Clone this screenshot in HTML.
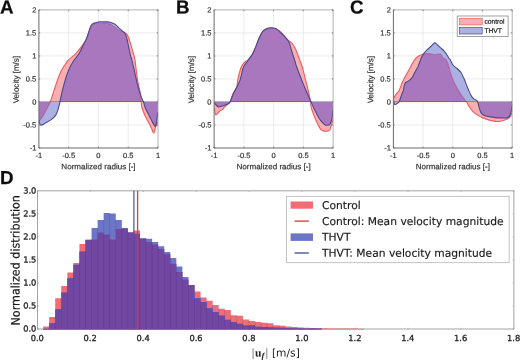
<!DOCTYPE html>
<html lang="en"><head><meta charset="utf-8"><title>Figure</title>
<style>html,body{margin:0;padding:0;background:#fff}svg{display:block;text-rendering:geometricPrecision}.lib{font-family:"Liberation Sans",sans-serif}.dv{font-family:"DejaVu Sans","Liberation Sans",sans-serif}.ser{font-family:"Liberation Serif","DejaVu Serif",serif}</style></head><body>
<svg width="520" height="360" viewBox="0 0 520 360">
<filter id="soft" x="0" y="0" width="100%" height="100%" filterUnits="objectBoundingBox"><feGaussianBlur stdDeviation="0.5"/></filter>
<rect width="520" height="360" fill="#fff"/>
<g filter="url(#soft)">
<rect width="520" height="360" fill="#fff"/>
<defs>
<clipPath id="crA"><path d="M38.9,101.97L38.9,121.2C39.45,120.52 41.07,118.77 42.20,117.12C43.33,115.48 44.63,113.29 45.70,111.35C46.77,109.41 47.83,107.04 48.60,105.48C49.37,103.92 49.38,104.56 50.30,102.00C51.22,99.44 52.83,94.00 54.10,90.14C55.37,86.27 56.75,81.97 57.90,78.82C59.05,75.68 59.86,73.59 61.00,71.28C62.14,68.98 63.50,66.88 64.75,65.00C66.00,63.11 66.83,61.69 68.50,59.97C70.17,58.25 72.67,56.83 74.75,54.69C76.83,52.55 79.44,49.13 81.00,47.15C82.56,45.16 83.17,44.21 84.10,42.77C85.03,41.34 85.82,40.28 86.60,38.55C87.38,36.82 88.02,34.44 88.75,32.42C89.48,30.39 90.21,27.83 91.00,26.38C91.79,24.94 92.46,24.32 93.50,23.77C94.54,23.22 96.17,23.23 97.25,23.07C98.33,22.90 98.29,22.72 100.00,22.77C101.71,22.82 105.42,22.93 107.50,23.37C109.58,23.81 110.83,24.41 112.50,25.38C114.17,26.36 115.83,28.15 117.50,29.20C119.17,30.26 121.04,30.99 122.50,31.72C123.96,32.45 125.21,32.54 126.25,33.58C127.29,34.62 127.92,35.86 128.75,37.95C129.58,40.05 130.42,43.31 131.25,46.15C132.08,48.98 133.12,52.64 133.75,54.94C134.38,57.25 134.58,57.37 135.00,59.97C135.42,62.57 135.73,66.67 136.25,70.53C136.77,74.38 137.38,79.12 138.10,83.10C138.82,87.08 140.08,91.25 140.60,94.41C141.12,97.57 140.98,99.87 141.20,102.05C141.42,104.23 141.35,105.41 141.90,107.47C142.45,109.54 143.48,112.12 144.50,114.44C145.52,116.76 146.83,119.08 148.00,121.40C149.17,123.72 150.53,126.43 151.50,128.37C152.47,130.31 153.12,133.23 153.80,133.04C154.48,132.86 155.05,128.82 155.60,127.27C156.15,125.73 156.73,124.65 157.10,123.79C157.47,122.93 157.68,122.38 157.80,122.10L157.8,101.97Z"/></clipPath>
<clipPath id="cuA"><path d="M38.9,101.97L38.9,120.11C39.05,120.69 39.42,122.73 39.80,123.59C40.18,124.45 40.22,125.40 41.20,125.28C42.18,125.17 43.98,123.87 45.70,122.89C47.42,121.92 49.85,120.66 51.50,119.41C53.15,118.16 54.53,116.92 55.60,115.38C56.67,113.84 57.22,112.19 57.90,110.16C58.58,108.13 59.37,104.55 59.70,103.19C60.03,101.83 59.58,103.55 59.90,102.00C60.22,100.45 60.90,96.93 61.60,93.91C62.30,90.88 63.16,87.20 64.10,83.85C65.04,80.50 66.20,76.73 67.25,73.80C68.30,70.86 69.36,68.39 70.40,66.26C71.44,64.12 72.05,63.11 73.50,60.97C74.95,58.83 77.53,55.94 79.10,53.43C80.67,50.92 81.65,48.40 82.90,45.89C84.15,43.38 85.62,40.65 86.60,38.35C87.57,36.04 88.02,34.16 88.75,32.06C89.48,29.97 90.21,27.25 91.00,25.78C91.79,24.31 92.46,23.85 93.50,23.27C94.54,22.68 96.17,22.51 97.25,22.26C98.33,22.01 98.54,21.83 100.00,21.76C101.46,21.70 104.33,21.80 106.00,21.86C107.67,21.93 108.50,21.78 110.00,22.16C111.50,22.55 113.54,23.22 115.00,24.18C116.46,25.13 117.50,26.75 118.75,27.90C120.00,29.05 121.46,30.12 122.50,31.06C123.54,32.01 124.27,32.32 125.00,33.58C125.73,34.84 126.28,36.30 126.90,38.61C127.53,40.91 128.13,44.47 128.75,47.40C129.37,50.34 130.18,54.44 130.60,56.20C131.02,57.96 130.72,55.99 131.25,57.96C131.78,59.93 132.92,64.45 133.75,68.02C134.58,71.58 135.42,75.77 136.25,79.33C137.08,82.89 137.92,86.45 138.75,89.38C139.58,92.31 140.46,94.81 141.25,96.92C142.04,99.03 142.86,100.29 143.50,102.05C144.14,103.81 144.35,105.59 145.10,107.47C145.85,109.35 146.93,111.20 148.00,113.34C149.07,115.48 150.43,118.28 151.50,120.31C152.57,122.33 153.72,124.52 154.40,125.48C155.08,126.44 155.21,126.94 155.60,126.08C155.99,125.22 156.47,122.05 156.75,120.31C157.03,118.57 157.12,116.99 157.30,115.63C157.48,114.27 157.72,112.73 157.80,112.15L157.8,101.97Z"/></clipPath>
<clipPath id="cbA"><rect x="38.9" y="9.9" width="119.1" height="138.1"/></clipPath>
<clipPath id="crB"><path d="M214.3,101.97L214.3,108.17C214.55,109.30 214.97,114.39 215.80,114.94C216.63,115.48 218.13,112.41 219.30,111.45C220.47,110.49 221.82,110.03 222.80,109.16C223.78,108.30 224.22,107.24 225.20,106.28C226.18,105.32 227.83,104.17 228.70,103.39C229.57,102.61 229.75,103.10 230.40,101.60C231.05,100.09 231.55,96.79 232.60,94.36C233.65,91.93 235.85,89.40 236.70,87.02C237.55,84.64 237.12,82.91 237.70,80.08C238.28,77.25 239.37,72.64 240.20,70.03C241.03,67.41 241.80,65.82 242.70,64.40C243.60,62.97 244.67,62.23 245.60,61.48C246.53,60.73 247.18,61.02 248.25,59.92C249.32,58.82 250.96,56.57 252.00,54.89C253.04,53.21 253.67,51.75 254.50,49.86C255.33,47.98 256.17,45.67 257.00,43.58C257.83,41.48 258.57,39.22 259.50,37.29C260.43,35.37 261.56,33.28 262.60,32.02C263.64,30.75 264.60,30.26 265.75,29.70C266.90,29.15 268.25,28.87 269.50,28.70C270.75,28.53 272.00,28.56 273.25,28.70C274.50,28.83 275.54,28.77 277.00,29.50C278.46,30.24 280.50,31.70 282.00,33.12C283.50,34.55 284.92,36.83 286.00,38.05C287.08,39.27 287.46,39.54 288.50,40.47C289.54,41.40 291.10,42.27 292.25,43.63C293.40,45.00 294.46,46.78 295.40,48.66C296.34,50.55 297.10,52.85 297.90,54.94C298.70,57.04 299.58,59.55 300.20,61.23C300.82,62.90 301.12,63.53 301.60,65.00C302.08,66.47 302.43,67.51 303.10,70.03C303.77,72.54 304.77,76.73 305.60,80.08C306.43,83.43 307.30,86.78 308.10,90.14C308.90,93.49 309.98,98.25 310.40,100.19C310.82,102.13 310.45,100.52 310.60,101.80C310.75,103.08 310.78,105.70 311.30,107.87C311.82,110.04 312.82,112.51 313.70,114.84C314.58,117.16 315.63,119.68 316.60,121.80C317.57,123.92 318.53,126.13 319.50,127.57C320.47,129.01 321.23,129.84 322.40,130.46C323.57,131.07 325.33,131.25 326.50,131.25C327.67,131.25 328.72,131.07 329.40,130.46C330.08,129.84 330.15,128.83 330.60,127.57C331.05,126.31 331.68,124.30 332.10,122.89C332.52,121.49 332.93,119.74 333.10,119.11L333.1,101.97Z"/></clipPath>
<clipPath id="cuB"><path d="M214.3,101.97L214.3,102.7C214.37,102.81 214.05,102.70 214.70,103.39C215.35,104.09 217.03,106.39 218.20,106.88C219.37,107.36 220.53,106.58 221.70,106.28C222.87,105.98 224.03,105.57 225.20,105.08C226.37,104.60 227.73,104.26 228.70,103.39C229.67,102.53 230.32,101.26 231.00,99.89C231.68,98.52 231.77,97.31 232.75,95.16C233.73,93.02 235.68,89.53 236.90,87.02C238.12,84.51 239.26,82.49 240.10,80.08C240.94,77.67 241.33,74.84 241.95,72.54C242.57,70.24 242.97,68.03 243.80,66.26C244.63,64.48 246.21,62.94 246.95,61.88C247.69,60.83 247.41,61.08 248.25,59.92C249.09,58.75 250.96,56.57 252.00,54.89C253.04,53.21 253.67,51.75 254.50,49.86C255.33,47.98 256.17,45.67 257.00,43.58C257.83,41.48 258.57,39.29 259.50,37.29C260.43,35.30 261.56,32.98 262.60,31.61C263.64,30.25 264.60,29.72 265.75,29.10C266.90,28.48 268.25,28.09 269.50,27.89C270.75,27.69 272.00,27.69 273.25,27.89C274.50,28.09 275.71,28.25 277.00,29.10C278.29,29.96 279.50,31.53 281.00,33.02C282.50,34.51 284.65,36.49 286.00,38.05C287.35,39.61 288.27,40.61 289.10,42.38C289.93,44.14 290.37,46.57 291.00,48.66C291.63,50.76 292.17,52.64 292.90,54.94C293.63,57.25 294.88,60.81 295.40,62.49C295.92,64.16 295.44,63.32 296.00,65.00C296.56,66.67 297.46,69.19 298.75,72.54C300.04,75.89 302.19,81.34 303.75,85.11C305.31,88.88 306.89,92.36 308.10,95.16C309.31,97.96 309.98,99.60 311.00,101.90C312.02,104.20 313.12,106.63 314.25,108.97C315.38,111.30 316.58,113.89 317.75,115.93C318.92,117.97 320.08,119.74 321.25,121.20C322.42,122.66 323.68,124.01 324.75,124.69C325.82,125.37 326.82,125.38 327.70,125.28C328.57,125.18 329.32,125.07 330.00,124.09C330.68,123.11 331.32,121.15 331.75,119.41C332.18,117.67 332.38,115.18 332.60,113.64C332.83,112.10 333.02,110.74 333.10,110.16L333.1,101.97Z"/></clipPath>
<clipPath id="cbB"><rect x="214.1" y="9.9" width="119" height="138.1"/></clipPath>
<clipPath id="crC"><path d="M393.4,101.97L393.4,98.43C393.88,97.68 395.27,95.29 396.25,93.91C397.23,92.52 398.21,92.10 399.25,90.14C400.29,88.17 401.33,84.69 402.50,82.09C403.67,79.49 405.00,76.90 406.25,74.55C407.50,72.20 409.06,69.75 410.00,68.01C410.94,66.28 411.07,65.63 411.90,64.14C412.73,62.66 413.86,60.48 415.00,59.12C416.14,57.75 417.50,56.74 418.75,55.95C420.00,55.15 421.25,54.76 422.50,54.34C423.75,53.92 424.79,53.50 426.25,53.44C427.71,53.37 429.79,53.73 431.25,53.94C432.71,54.15 433.75,54.69 435.00,54.69C436.25,54.69 437.71,53.90 438.75,53.94C439.79,53.98 440.52,54.26 441.25,54.94C441.98,55.63 442.38,57.32 443.10,58.06C443.83,58.80 444.87,58.63 445.60,59.37C446.33,60.11 446.92,61.13 447.50,62.49C448.08,63.84 448.42,65.21 449.10,67.51C449.78,69.82 450.55,73.38 451.60,76.31C452.65,79.24 454.04,82.39 455.40,85.11C456.76,87.83 458.30,90.35 459.75,92.65C461.20,94.95 462.94,97.37 464.10,98.93C465.26,100.49 465.84,100.71 466.70,102.00C467.56,103.29 468.20,105.07 469.25,106.68C470.30,108.29 471.54,110.20 473.00,111.65C474.46,113.10 476.33,114.35 478.00,115.38C479.67,116.42 481.12,117.08 483.00,117.87C484.88,118.66 487.17,119.53 489.25,120.11C491.33,120.69 493.62,121.17 495.50,121.35C497.38,121.54 498.83,121.48 500.50,121.20C502.17,120.93 504.04,120.27 505.50,119.71C506.96,119.16 508.32,118.59 509.25,117.87C510.18,117.15 510.62,116.42 511.10,115.38C511.58,114.35 511.85,112.69 512.10,111.65C512.35,110.62 512.52,109.58 512.60,109.16L512.6,101.97Z"/></clipPath>
<clipPath id="cuC"><path d="M393.4,101.97L393.4,100.19C393.53,100.72 393.92,102.63 394.20,103.39C394.48,104.16 394.60,104.79 395.10,104.79C395.60,104.79 396.51,103.95 397.20,103.39C397.89,102.84 398.47,103.03 399.25,101.45C400.03,99.87 401.21,95.79 401.90,93.91C402.59,92.02 402.88,91.90 403.40,90.14C403.92,88.38 404.11,84.90 405.00,83.35C405.89,81.80 407.50,81.88 408.75,80.84C410.00,79.79 411.46,78.53 412.50,77.06C413.54,75.60 414.07,73.82 415.00,72.04C415.93,70.25 417.06,68.68 418.10,66.35C419.14,64.02 420.31,60.18 421.25,58.06C422.19,55.94 422.81,54.99 423.75,53.63C424.69,52.28 425.76,51.06 426.90,49.91C428.04,48.77 429.57,47.69 430.60,46.75C431.63,45.80 432.41,44.89 433.10,44.23C433.79,43.57 434.12,42.77 434.75,42.78C435.38,42.79 436.02,43.52 436.90,44.29C437.77,45.06 438.86,46.36 440.00,47.40C441.14,48.44 442.71,49.47 443.75,50.52C444.79,51.57 445.42,52.43 446.25,53.69C447.08,54.94 448.06,57.01 448.75,58.06C449.44,59.11 449.71,58.82 450.40,59.97C451.09,61.13 451.76,63.53 452.90,65.00C454.04,66.47 455.90,67.51 457.25,68.77C458.60,70.03 459.86,70.86 461.00,72.54C462.14,74.22 463.17,76.73 464.10,78.82C465.03,80.92 465.77,83.01 466.60,85.11C467.43,87.20 468.24,89.47 469.10,91.39C469.96,93.32 470.89,95.37 471.75,96.67C472.61,97.97 473.42,98.56 474.25,99.18C475.08,99.81 476.12,99.81 476.75,100.44C477.38,101.07 477.58,101.70 478.00,102.95C478.42,104.19 478.73,106.26 479.25,107.92C479.77,109.58 480.27,111.65 481.10,112.90C481.93,114.14 482.89,114.76 484.25,115.38C485.61,116.00 487.38,116.25 489.25,116.63C491.12,117.00 493.42,117.41 495.50,117.62C497.58,117.83 499.88,117.83 501.75,117.87C503.62,117.91 505.50,118.08 506.75,117.87C508.00,117.66 508.52,117.66 509.25,116.63C509.98,115.59 510.64,113.31 511.10,111.65C511.56,109.99 511.75,107.92 512.00,106.68C512.25,105.43 512.50,104.60 512.60,104.19L512.6,101.97Z"/></clipPath>
<clipPath id="cbC"><rect x="393.4" y="9.9" width="118.8" height="138.1"/></clipPath>
</defs>
<g id="panelA">
<line x1="68.67" y1="9.9" x2="68.67" y2="148" stroke="#e4e4e4" stroke-width="0.7"/>
<line x1="98.45" y1="9.9" x2="98.45" y2="148" stroke="#e4e4e4" stroke-width="0.7"/>
<line x1="128.22" y1="9.9" x2="128.22" y2="148" stroke="#e4e4e4" stroke-width="0.7"/>
<line x1="38.9" y1="32.92" x2="158" y2="32.92" stroke="#e4e4e4" stroke-width="0.7"/>
<line x1="38.9" y1="55.93" x2="158" y2="55.93" stroke="#e4e4e4" stroke-width="0.7"/>
<line x1="38.9" y1="78.95" x2="158" y2="78.95" stroke="#e4e4e4" stroke-width="0.7"/>
<line x1="38.9" y1="101.97" x2="158" y2="101.97" stroke="#e4e4e4" stroke-width="0.7"/>
<line x1="38.9" y1="124.98" x2="158" y2="124.98" stroke="#e4e4e4" stroke-width="0.7"/>
<g clip-path="url(#cbA)">
<path d="M38.9,101.97L38.9,121.2C39.45,120.52 41.07,118.77 42.20,117.12C43.33,115.48 44.63,113.29 45.70,111.35C46.77,109.41 47.83,107.04 48.60,105.48C49.37,103.92 49.38,104.56 50.30,102.00C51.22,99.44 52.83,94.00 54.10,90.14C55.37,86.27 56.75,81.97 57.90,78.82C59.05,75.68 59.86,73.59 61.00,71.28C62.14,68.98 63.50,66.88 64.75,65.00C66.00,63.11 66.83,61.69 68.50,59.97C70.17,58.25 72.67,56.83 74.75,54.69C76.83,52.55 79.44,49.13 81.00,47.15C82.56,45.16 83.17,44.21 84.10,42.77C85.03,41.34 85.82,40.28 86.60,38.55C87.38,36.82 88.02,34.44 88.75,32.42C89.48,30.39 90.21,27.83 91.00,26.38C91.79,24.94 92.46,24.32 93.50,23.77C94.54,23.22 96.17,23.23 97.25,23.07C98.33,22.90 98.29,22.72 100.00,22.77C101.71,22.82 105.42,22.93 107.50,23.37C109.58,23.81 110.83,24.41 112.50,25.38C114.17,26.36 115.83,28.15 117.50,29.20C119.17,30.26 121.04,30.99 122.50,31.72C123.96,32.45 125.21,32.54 126.25,33.58C127.29,34.62 127.92,35.86 128.75,37.95C129.58,40.05 130.42,43.31 131.25,46.15C132.08,48.98 133.12,52.64 133.75,54.94C134.38,57.25 134.58,57.37 135.00,59.97C135.42,62.57 135.73,66.67 136.25,70.53C136.77,74.38 137.38,79.12 138.10,83.10C138.82,87.08 140.08,91.25 140.60,94.41C141.12,97.57 140.98,99.87 141.20,102.05C141.42,104.23 141.35,105.41 141.90,107.47C142.45,109.54 143.48,112.12 144.50,114.44C145.52,116.76 146.83,119.08 148.00,121.40C149.17,123.72 150.53,126.43 151.50,128.37C152.47,130.31 153.12,133.23 153.80,133.04C154.48,132.86 155.05,128.82 155.60,127.27C156.15,125.73 156.73,124.65 157.10,123.79C157.47,122.93 157.68,122.38 157.80,122.10L157.8,101.97Z" fill="#f9aeb0"/>
<path d="M38.9,121.2C39.45,120.52 41.07,118.77 42.20,117.12C43.33,115.48 44.63,113.29 45.70,111.35C46.77,109.41 47.83,107.04 48.60,105.48C49.37,103.92 49.38,104.56 50.30,102.00C51.22,99.44 52.83,94.00 54.10,90.14C55.37,86.27 56.75,81.97 57.90,78.82C59.05,75.68 59.86,73.59 61.00,71.28C62.14,68.98 63.50,66.88 64.75,65.00C66.00,63.11 66.83,61.69 68.50,59.97C70.17,58.25 72.67,56.83 74.75,54.69C76.83,52.55 79.44,49.13 81.00,47.15C82.56,45.16 83.17,44.21 84.10,42.77C85.03,41.34 85.82,40.28 86.60,38.55C87.38,36.82 88.02,34.44 88.75,32.42C89.48,30.39 90.21,27.83 91.00,26.38C91.79,24.94 92.46,24.32 93.50,23.77C94.54,23.22 96.17,23.23 97.25,23.07C98.33,22.90 98.29,22.72 100.00,22.77C101.71,22.82 105.42,22.93 107.50,23.37C109.58,23.81 110.83,24.41 112.50,25.38C114.17,26.36 115.83,28.15 117.50,29.20C119.17,30.26 121.04,30.99 122.50,31.72C123.96,32.45 125.21,32.54 126.25,33.58C127.29,34.62 127.92,35.86 128.75,37.95C129.58,40.05 130.42,43.31 131.25,46.15C132.08,48.98 133.12,52.64 133.75,54.94C134.38,57.25 134.58,57.37 135.00,59.97C135.42,62.57 135.73,66.67 136.25,70.53C136.77,74.38 137.38,79.12 138.10,83.10C138.82,87.08 140.08,91.25 140.60,94.41C141.12,97.57 140.98,99.87 141.20,102.05C141.42,104.23 141.35,105.41 141.90,107.47C142.45,109.54 143.48,112.12 144.50,114.44C145.52,116.76 146.83,119.08 148.00,121.40C149.17,123.72 150.53,126.43 151.50,128.37C152.47,130.31 153.12,133.23 153.80,133.04C154.48,132.86 155.05,128.82 155.60,127.27C156.15,125.73 156.73,124.65 157.10,123.79C157.47,122.93 157.68,122.38 157.80,122.10" fill="none" stroke="#ee5a5e" stroke-width="1.1" stroke-linejoin="round"/>
<path d="M38.9,101.97L38.9,120.11C39.05,120.69 39.42,122.73 39.80,123.59C40.18,124.45 40.22,125.40 41.20,125.28C42.18,125.17 43.98,123.87 45.70,122.89C47.42,121.92 49.85,120.66 51.50,119.41C53.15,118.16 54.53,116.92 55.60,115.38C56.67,113.84 57.22,112.19 57.90,110.16C58.58,108.13 59.37,104.55 59.70,103.19C60.03,101.83 59.58,103.55 59.90,102.00C60.22,100.45 60.90,96.93 61.60,93.91C62.30,90.88 63.16,87.20 64.10,83.85C65.04,80.50 66.20,76.73 67.25,73.80C68.30,70.86 69.36,68.39 70.40,66.26C71.44,64.12 72.05,63.11 73.50,60.97C74.95,58.83 77.53,55.94 79.10,53.43C80.67,50.92 81.65,48.40 82.90,45.89C84.15,43.38 85.62,40.65 86.60,38.35C87.57,36.04 88.02,34.16 88.75,32.06C89.48,29.97 90.21,27.25 91.00,25.78C91.79,24.31 92.46,23.85 93.50,23.27C94.54,22.68 96.17,22.51 97.25,22.26C98.33,22.01 98.54,21.83 100.00,21.76C101.46,21.70 104.33,21.80 106.00,21.86C107.67,21.93 108.50,21.78 110.00,22.16C111.50,22.55 113.54,23.22 115.00,24.18C116.46,25.13 117.50,26.75 118.75,27.90C120.00,29.05 121.46,30.12 122.50,31.06C123.54,32.01 124.27,32.32 125.00,33.58C125.73,34.84 126.28,36.30 126.90,38.61C127.53,40.91 128.13,44.47 128.75,47.40C129.37,50.34 130.18,54.44 130.60,56.20C131.02,57.96 130.72,55.99 131.25,57.96C131.78,59.93 132.92,64.45 133.75,68.02C134.58,71.58 135.42,75.77 136.25,79.33C137.08,82.89 137.92,86.45 138.75,89.38C139.58,92.31 140.46,94.81 141.25,96.92C142.04,99.03 142.86,100.29 143.50,102.05C144.14,103.81 144.35,105.59 145.10,107.47C145.85,109.35 146.93,111.20 148.00,113.34C149.07,115.48 150.43,118.28 151.50,120.31C152.57,122.33 153.72,124.52 154.40,125.48C155.08,126.44 155.21,126.94 155.60,126.08C155.99,125.22 156.47,122.05 156.75,120.31C157.03,118.57 157.12,116.99 157.30,115.63C157.48,114.27 157.72,112.73 157.80,112.15L157.8,101.97Z" fill="#acb0e2"/>
<path d="M38.9,101.97L38.9,120.11C39.05,120.69 39.42,122.73 39.80,123.59C40.18,124.45 40.22,125.40 41.20,125.28C42.18,125.17 43.98,123.87 45.70,122.89C47.42,121.92 49.85,120.66 51.50,119.41C53.15,118.16 54.53,116.92 55.60,115.38C56.67,113.84 57.22,112.19 57.90,110.16C58.58,108.13 59.37,104.55 59.70,103.19C60.03,101.83 59.58,103.55 59.90,102.00C60.22,100.45 60.90,96.93 61.60,93.91C62.30,90.88 63.16,87.20 64.10,83.85C65.04,80.50 66.20,76.73 67.25,73.80C68.30,70.86 69.36,68.39 70.40,66.26C71.44,64.12 72.05,63.11 73.50,60.97C74.95,58.83 77.53,55.94 79.10,53.43C80.67,50.92 81.65,48.40 82.90,45.89C84.15,43.38 85.62,40.65 86.60,38.35C87.57,36.04 88.02,34.16 88.75,32.06C89.48,29.97 90.21,27.25 91.00,25.78C91.79,24.31 92.46,23.85 93.50,23.27C94.54,22.68 96.17,22.51 97.25,22.26C98.33,22.01 98.54,21.83 100.00,21.76C101.46,21.70 104.33,21.80 106.00,21.86C107.67,21.93 108.50,21.78 110.00,22.16C111.50,22.55 113.54,23.22 115.00,24.18C116.46,25.13 117.50,26.75 118.75,27.90C120.00,29.05 121.46,30.12 122.50,31.06C123.54,32.01 124.27,32.32 125.00,33.58C125.73,34.84 126.28,36.30 126.90,38.61C127.53,40.91 128.13,44.47 128.75,47.40C129.37,50.34 130.18,54.44 130.60,56.20C131.02,57.96 130.72,55.99 131.25,57.96C131.78,59.93 132.92,64.45 133.75,68.02C134.58,71.58 135.42,75.77 136.25,79.33C137.08,82.89 137.92,86.45 138.75,89.38C139.58,92.31 140.46,94.81 141.25,96.92C142.04,99.03 142.86,100.29 143.50,102.05C144.14,103.81 144.35,105.59 145.10,107.47C145.85,109.35 146.93,111.20 148.00,113.34C149.07,115.48 150.43,118.28 151.50,120.31C152.57,122.33 153.72,124.52 154.40,125.48C155.08,126.44 155.21,126.94 155.60,126.08C155.99,125.22 156.47,122.05 156.75,120.31C157.03,118.57 157.12,116.99 157.30,115.63C157.48,114.27 157.72,112.73 157.80,112.15L157.8,101.97Z" fill="#a877bd" clip-path="url(#crA)"/>
<path d="M38.9,121.2C39.45,120.52 41.07,118.77 42.20,117.12C43.33,115.48 44.63,113.29 45.70,111.35C46.77,109.41 47.83,107.04 48.60,105.48C49.37,103.92 49.38,104.56 50.30,102.00C51.22,99.44 52.83,94.00 54.10,90.14C55.37,86.27 56.75,81.97 57.90,78.82C59.05,75.68 59.86,73.59 61.00,71.28C62.14,68.98 63.50,66.88 64.75,65.00C66.00,63.11 66.83,61.69 68.50,59.97C70.17,58.25 72.67,56.83 74.75,54.69C76.83,52.55 79.44,49.13 81.00,47.15C82.56,45.16 83.17,44.21 84.10,42.77C85.03,41.34 85.82,40.28 86.60,38.55C87.38,36.82 88.02,34.44 88.75,32.42C89.48,30.39 90.21,27.83 91.00,26.38C91.79,24.94 92.46,24.32 93.50,23.77C94.54,23.22 96.17,23.23 97.25,23.07C98.33,22.90 98.29,22.72 100.00,22.77C101.71,22.82 105.42,22.93 107.50,23.37C109.58,23.81 110.83,24.41 112.50,25.38C114.17,26.36 115.83,28.15 117.50,29.20C119.17,30.26 121.04,30.99 122.50,31.72C123.96,32.45 125.21,32.54 126.25,33.58C127.29,34.62 127.92,35.86 128.75,37.95C129.58,40.05 130.42,43.31 131.25,46.15C132.08,48.98 133.12,52.64 133.75,54.94C134.38,57.25 134.58,57.37 135.00,59.97C135.42,62.57 135.73,66.67 136.25,70.53C136.77,74.38 137.38,79.12 138.10,83.10C138.82,87.08 140.08,91.25 140.60,94.41C141.12,97.57 140.98,99.87 141.20,102.05C141.42,104.23 141.35,105.41 141.90,107.47C142.45,109.54 143.48,112.12 144.50,114.44C145.52,116.76 146.83,119.08 148.00,121.40C149.17,123.72 150.53,126.43 151.50,128.37C152.47,130.31 153.12,133.23 153.80,133.04C154.48,132.86 155.05,128.82 155.60,127.27C156.15,125.73 156.73,124.65 157.10,123.79C157.47,122.93 157.68,122.38 157.80,122.10" fill="none" stroke="#b8407e" stroke-width="1.1" stroke-linejoin="round" opacity="0.5" clip-path="url(#cuA)"/>
<path d="M38.9,120.11C39.05,120.69 39.42,122.73 39.80,123.59C40.18,124.45 40.22,125.40 41.20,125.28C42.18,125.17 43.98,123.87 45.70,122.89C47.42,121.92 49.85,120.66 51.50,119.41C53.15,118.16 54.53,116.92 55.60,115.38C56.67,113.84 57.22,112.19 57.90,110.16C58.58,108.13 59.37,104.55 59.70,103.19C60.03,101.83 59.58,103.55 59.90,102.00C60.22,100.45 60.90,96.93 61.60,93.91C62.30,90.88 63.16,87.20 64.10,83.85C65.04,80.50 66.20,76.73 67.25,73.80C68.30,70.86 69.36,68.39 70.40,66.26C71.44,64.12 72.05,63.11 73.50,60.97C74.95,58.83 77.53,55.94 79.10,53.43C80.67,50.92 81.65,48.40 82.90,45.89C84.15,43.38 85.62,40.65 86.60,38.35C87.57,36.04 88.02,34.16 88.75,32.06C89.48,29.97 90.21,27.25 91.00,25.78C91.79,24.31 92.46,23.85 93.50,23.27C94.54,22.68 96.17,22.51 97.25,22.26C98.33,22.01 98.54,21.83 100.00,21.76C101.46,21.70 104.33,21.80 106.00,21.86C107.67,21.93 108.50,21.78 110.00,22.16C111.50,22.55 113.54,23.22 115.00,24.18C116.46,25.13 117.50,26.75 118.75,27.90C120.00,29.05 121.46,30.12 122.50,31.06C123.54,32.01 124.27,32.32 125.00,33.58C125.73,34.84 126.28,36.30 126.90,38.61C127.53,40.91 128.13,44.47 128.75,47.40C129.37,50.34 130.18,54.44 130.60,56.20C131.02,57.96 130.72,55.99 131.25,57.96C131.78,59.93 132.92,64.45 133.75,68.02C134.58,71.58 135.42,75.77 136.25,79.33C137.08,82.89 137.92,86.45 138.75,89.38C139.58,92.31 140.46,94.81 141.25,96.92C142.04,99.03 142.86,100.29 143.50,102.05C144.14,103.81 144.35,105.59 145.10,107.47C145.85,109.35 146.93,111.20 148.00,113.34C149.07,115.48 150.43,118.28 151.50,120.31C152.57,122.33 153.72,124.52 154.40,125.48C155.08,126.44 155.21,126.94 155.60,126.08C155.99,125.22 156.47,122.05 156.75,120.31C157.03,118.57 157.12,116.99 157.30,115.63C157.48,114.27 157.72,112.73 157.80,112.15" fill="none" stroke="#484b8c" stroke-width="1.1" stroke-linejoin="round"/>
<line x1="38.9" y1="101.5" x2="158" y2="101.5" stroke="#2a2060" stroke-width="1" opacity="0.3"/>
</g>
<path d="M38.9,9.9H158V148" fill="none" stroke="#8e8e8e" stroke-width="0.7"/>
<path d="M38.9,9.9V148H158" fill="none" stroke="#6a6a6a" stroke-width="1"/>
<path d="M38.9,148v-1.3M38.9,9.9v1.3M68.67,148v-1.3M68.67,9.9v1.3M98.45,148v-1.3M98.45,9.9v1.3M128.22,148v-1.3M128.22,9.9v1.3M158,148v-1.3M158,9.9v1.3M38.9,9.9h1.3M158,9.9h-1.3M38.9,32.92h1.3M158,32.92h-1.3M38.9,55.93h1.3M158,55.93h-1.3M38.9,78.95h1.3M158,78.95h-1.3M38.9,101.97h1.3M158,101.97h-1.3M38.9,124.98h1.3M158,124.98h-1.3M38.9,148h1.3M158,148h-1.3" stroke="#6a6a6a" stroke-width="0.8" fill="none"/>
<g class="lib" font-size="7.5" fill="#303030" stroke="#303030" stroke-width="0.18">
<text transform="translate(36.3,12.4) rotate(0.03)" text-anchor="end">2</text>
<text transform="translate(36.3,35.42) rotate(0.03)" text-anchor="end">1.5</text>
<text transform="translate(36.3,58.43) rotate(0.03)" text-anchor="end">1</text>
<text transform="translate(36.3,81.45) rotate(0.03)" text-anchor="end">0.5</text>
<text transform="translate(36.3,104.47) rotate(0.03)" text-anchor="end">0</text>
<text transform="translate(36.3,127.48) rotate(0.03)" text-anchor="end">-0.5</text>
<text transform="translate(36.3,150.5) rotate(0.03)" text-anchor="end">-1</text>
<text transform="translate(38.9,158) rotate(0.03)" text-anchor="middle">-1</text>
<text transform="translate(68.67,158) rotate(0.03)" text-anchor="middle">-0.5</text>
<text transform="translate(98.45,158) rotate(0.03)" text-anchor="middle">0</text>
<text transform="translate(128.22,158) rotate(0.03)" text-anchor="middle">0.5</text>
<text transform="translate(158,158) rotate(0.03)" text-anchor="middle">1</text>
</g>
<g class="lib" font-size="8.05" fill="#303030" stroke="#303030" stroke-width="0.18">
<text transform="translate(98.45,169.2) rotate(0.03)" text-anchor="middle">Normalized radius [-]</text>
<text transform="translate(18.8,79.6) rotate(-90.03)" text-anchor="middle">Velocity [m/s]</text>
</g>
<text class="lib" transform="translate(0,13.5) rotate(0.03)" font-size="18.8" font-weight="bold" fill="#111" stroke="#111" stroke-width="0.25">A</text>
</g>
<g id="panelB">
<line x1="243.85" y1="9.9" x2="243.85" y2="148" stroke="#e4e4e4" stroke-width="0.7"/>
<line x1="273.6" y1="9.9" x2="273.6" y2="148" stroke="#e4e4e4" stroke-width="0.7"/>
<line x1="303.35" y1="9.9" x2="303.35" y2="148" stroke="#e4e4e4" stroke-width="0.7"/>
<line x1="214.1" y1="32.92" x2="333.1" y2="32.92" stroke="#e4e4e4" stroke-width="0.7"/>
<line x1="214.1" y1="55.93" x2="333.1" y2="55.93" stroke="#e4e4e4" stroke-width="0.7"/>
<line x1="214.1" y1="78.95" x2="333.1" y2="78.95" stroke="#e4e4e4" stroke-width="0.7"/>
<line x1="214.1" y1="101.97" x2="333.1" y2="101.97" stroke="#e4e4e4" stroke-width="0.7"/>
<line x1="214.1" y1="124.98" x2="333.1" y2="124.98" stroke="#e4e4e4" stroke-width="0.7"/>
<g clip-path="url(#cbB)">
<path d="M214.3,101.97L214.3,108.17C214.55,109.30 214.97,114.39 215.80,114.94C216.63,115.48 218.13,112.41 219.30,111.45C220.47,110.49 221.82,110.03 222.80,109.16C223.78,108.30 224.22,107.24 225.20,106.28C226.18,105.32 227.83,104.17 228.70,103.39C229.57,102.61 229.75,103.10 230.40,101.60C231.05,100.09 231.55,96.79 232.60,94.36C233.65,91.93 235.85,89.40 236.70,87.02C237.55,84.64 237.12,82.91 237.70,80.08C238.28,77.25 239.37,72.64 240.20,70.03C241.03,67.41 241.80,65.82 242.70,64.40C243.60,62.97 244.67,62.23 245.60,61.48C246.53,60.73 247.18,61.02 248.25,59.92C249.32,58.82 250.96,56.57 252.00,54.89C253.04,53.21 253.67,51.75 254.50,49.86C255.33,47.98 256.17,45.67 257.00,43.58C257.83,41.48 258.57,39.22 259.50,37.29C260.43,35.37 261.56,33.28 262.60,32.02C263.64,30.75 264.60,30.26 265.75,29.70C266.90,29.15 268.25,28.87 269.50,28.70C270.75,28.53 272.00,28.56 273.25,28.70C274.50,28.83 275.54,28.77 277.00,29.50C278.46,30.24 280.50,31.70 282.00,33.12C283.50,34.55 284.92,36.83 286.00,38.05C287.08,39.27 287.46,39.54 288.50,40.47C289.54,41.40 291.10,42.27 292.25,43.63C293.40,45.00 294.46,46.78 295.40,48.66C296.34,50.55 297.10,52.85 297.90,54.94C298.70,57.04 299.58,59.55 300.20,61.23C300.82,62.90 301.12,63.53 301.60,65.00C302.08,66.47 302.43,67.51 303.10,70.03C303.77,72.54 304.77,76.73 305.60,80.08C306.43,83.43 307.30,86.78 308.10,90.14C308.90,93.49 309.98,98.25 310.40,100.19C310.82,102.13 310.45,100.52 310.60,101.80C310.75,103.08 310.78,105.70 311.30,107.87C311.82,110.04 312.82,112.51 313.70,114.84C314.58,117.16 315.63,119.68 316.60,121.80C317.57,123.92 318.53,126.13 319.50,127.57C320.47,129.01 321.23,129.84 322.40,130.46C323.57,131.07 325.33,131.25 326.50,131.25C327.67,131.25 328.72,131.07 329.40,130.46C330.08,129.84 330.15,128.83 330.60,127.57C331.05,126.31 331.68,124.30 332.10,122.89C332.52,121.49 332.93,119.74 333.10,119.11L333.1,101.97Z" fill="#f9aeb0"/>
<path d="M214.3,108.17C214.55,109.30 214.97,114.39 215.80,114.94C216.63,115.48 218.13,112.41 219.30,111.45C220.47,110.49 221.82,110.03 222.80,109.16C223.78,108.30 224.22,107.24 225.20,106.28C226.18,105.32 227.83,104.17 228.70,103.39C229.57,102.61 229.75,103.10 230.40,101.60C231.05,100.09 231.55,96.79 232.60,94.36C233.65,91.93 235.85,89.40 236.70,87.02C237.55,84.64 237.12,82.91 237.70,80.08C238.28,77.25 239.37,72.64 240.20,70.03C241.03,67.41 241.80,65.82 242.70,64.40C243.60,62.97 244.67,62.23 245.60,61.48C246.53,60.73 247.18,61.02 248.25,59.92C249.32,58.82 250.96,56.57 252.00,54.89C253.04,53.21 253.67,51.75 254.50,49.86C255.33,47.98 256.17,45.67 257.00,43.58C257.83,41.48 258.57,39.22 259.50,37.29C260.43,35.37 261.56,33.28 262.60,32.02C263.64,30.75 264.60,30.26 265.75,29.70C266.90,29.15 268.25,28.87 269.50,28.70C270.75,28.53 272.00,28.56 273.25,28.70C274.50,28.83 275.54,28.77 277.00,29.50C278.46,30.24 280.50,31.70 282.00,33.12C283.50,34.55 284.92,36.83 286.00,38.05C287.08,39.27 287.46,39.54 288.50,40.47C289.54,41.40 291.10,42.27 292.25,43.63C293.40,45.00 294.46,46.78 295.40,48.66C296.34,50.55 297.10,52.85 297.90,54.94C298.70,57.04 299.58,59.55 300.20,61.23C300.82,62.90 301.12,63.53 301.60,65.00C302.08,66.47 302.43,67.51 303.10,70.03C303.77,72.54 304.77,76.73 305.60,80.08C306.43,83.43 307.30,86.78 308.10,90.14C308.90,93.49 309.98,98.25 310.40,100.19C310.82,102.13 310.45,100.52 310.60,101.80C310.75,103.08 310.78,105.70 311.30,107.87C311.82,110.04 312.82,112.51 313.70,114.84C314.58,117.16 315.63,119.68 316.60,121.80C317.57,123.92 318.53,126.13 319.50,127.57C320.47,129.01 321.23,129.84 322.40,130.46C323.57,131.07 325.33,131.25 326.50,131.25C327.67,131.25 328.72,131.07 329.40,130.46C330.08,129.84 330.15,128.83 330.60,127.57C331.05,126.31 331.68,124.30 332.10,122.89C332.52,121.49 332.93,119.74 333.10,119.11" fill="none" stroke="#ee5a5e" stroke-width="1.1" stroke-linejoin="round"/>
<path d="M214.3,101.97L214.3,102.7C214.37,102.81 214.05,102.70 214.70,103.39C215.35,104.09 217.03,106.39 218.20,106.88C219.37,107.36 220.53,106.58 221.70,106.28C222.87,105.98 224.03,105.57 225.20,105.08C226.37,104.60 227.73,104.26 228.70,103.39C229.67,102.53 230.32,101.26 231.00,99.89C231.68,98.52 231.77,97.31 232.75,95.16C233.73,93.02 235.68,89.53 236.90,87.02C238.12,84.51 239.26,82.49 240.10,80.08C240.94,77.67 241.33,74.84 241.95,72.54C242.57,70.24 242.97,68.03 243.80,66.26C244.63,64.48 246.21,62.94 246.95,61.88C247.69,60.83 247.41,61.08 248.25,59.92C249.09,58.75 250.96,56.57 252.00,54.89C253.04,53.21 253.67,51.75 254.50,49.86C255.33,47.98 256.17,45.67 257.00,43.58C257.83,41.48 258.57,39.29 259.50,37.29C260.43,35.30 261.56,32.98 262.60,31.61C263.64,30.25 264.60,29.72 265.75,29.10C266.90,28.48 268.25,28.09 269.50,27.89C270.75,27.69 272.00,27.69 273.25,27.89C274.50,28.09 275.71,28.25 277.00,29.10C278.29,29.96 279.50,31.53 281.00,33.02C282.50,34.51 284.65,36.49 286.00,38.05C287.35,39.61 288.27,40.61 289.10,42.38C289.93,44.14 290.37,46.57 291.00,48.66C291.63,50.76 292.17,52.64 292.90,54.94C293.63,57.25 294.88,60.81 295.40,62.49C295.92,64.16 295.44,63.32 296.00,65.00C296.56,66.67 297.46,69.19 298.75,72.54C300.04,75.89 302.19,81.34 303.75,85.11C305.31,88.88 306.89,92.36 308.10,95.16C309.31,97.96 309.98,99.60 311.00,101.90C312.02,104.20 313.12,106.63 314.25,108.97C315.38,111.30 316.58,113.89 317.75,115.93C318.92,117.97 320.08,119.74 321.25,121.20C322.42,122.66 323.68,124.01 324.75,124.69C325.82,125.37 326.82,125.38 327.70,125.28C328.57,125.18 329.32,125.07 330.00,124.09C330.68,123.11 331.32,121.15 331.75,119.41C332.18,117.67 332.38,115.18 332.60,113.64C332.83,112.10 333.02,110.74 333.10,110.16L333.1,101.97Z" fill="#acb0e2"/>
<path d="M214.3,101.97L214.3,102.7C214.37,102.81 214.05,102.70 214.70,103.39C215.35,104.09 217.03,106.39 218.20,106.88C219.37,107.36 220.53,106.58 221.70,106.28C222.87,105.98 224.03,105.57 225.20,105.08C226.37,104.60 227.73,104.26 228.70,103.39C229.67,102.53 230.32,101.26 231.00,99.89C231.68,98.52 231.77,97.31 232.75,95.16C233.73,93.02 235.68,89.53 236.90,87.02C238.12,84.51 239.26,82.49 240.10,80.08C240.94,77.67 241.33,74.84 241.95,72.54C242.57,70.24 242.97,68.03 243.80,66.26C244.63,64.48 246.21,62.94 246.95,61.88C247.69,60.83 247.41,61.08 248.25,59.92C249.09,58.75 250.96,56.57 252.00,54.89C253.04,53.21 253.67,51.75 254.50,49.86C255.33,47.98 256.17,45.67 257.00,43.58C257.83,41.48 258.57,39.29 259.50,37.29C260.43,35.30 261.56,32.98 262.60,31.61C263.64,30.25 264.60,29.72 265.75,29.10C266.90,28.48 268.25,28.09 269.50,27.89C270.75,27.69 272.00,27.69 273.25,27.89C274.50,28.09 275.71,28.25 277.00,29.10C278.29,29.96 279.50,31.53 281.00,33.02C282.50,34.51 284.65,36.49 286.00,38.05C287.35,39.61 288.27,40.61 289.10,42.38C289.93,44.14 290.37,46.57 291.00,48.66C291.63,50.76 292.17,52.64 292.90,54.94C293.63,57.25 294.88,60.81 295.40,62.49C295.92,64.16 295.44,63.32 296.00,65.00C296.56,66.67 297.46,69.19 298.75,72.54C300.04,75.89 302.19,81.34 303.75,85.11C305.31,88.88 306.89,92.36 308.10,95.16C309.31,97.96 309.98,99.60 311.00,101.90C312.02,104.20 313.12,106.63 314.25,108.97C315.38,111.30 316.58,113.89 317.75,115.93C318.92,117.97 320.08,119.74 321.25,121.20C322.42,122.66 323.68,124.01 324.75,124.69C325.82,125.37 326.82,125.38 327.70,125.28C328.57,125.18 329.32,125.07 330.00,124.09C330.68,123.11 331.32,121.15 331.75,119.41C332.18,117.67 332.38,115.18 332.60,113.64C332.83,112.10 333.02,110.74 333.10,110.16L333.1,101.97Z" fill="#a877bd" clip-path="url(#crB)"/>
<path d="M214.3,108.17C214.55,109.30 214.97,114.39 215.80,114.94C216.63,115.48 218.13,112.41 219.30,111.45C220.47,110.49 221.82,110.03 222.80,109.16C223.78,108.30 224.22,107.24 225.20,106.28C226.18,105.32 227.83,104.17 228.70,103.39C229.57,102.61 229.75,103.10 230.40,101.60C231.05,100.09 231.55,96.79 232.60,94.36C233.65,91.93 235.85,89.40 236.70,87.02C237.55,84.64 237.12,82.91 237.70,80.08C238.28,77.25 239.37,72.64 240.20,70.03C241.03,67.41 241.80,65.82 242.70,64.40C243.60,62.97 244.67,62.23 245.60,61.48C246.53,60.73 247.18,61.02 248.25,59.92C249.32,58.82 250.96,56.57 252.00,54.89C253.04,53.21 253.67,51.75 254.50,49.86C255.33,47.98 256.17,45.67 257.00,43.58C257.83,41.48 258.57,39.22 259.50,37.29C260.43,35.37 261.56,33.28 262.60,32.02C263.64,30.75 264.60,30.26 265.75,29.70C266.90,29.15 268.25,28.87 269.50,28.70C270.75,28.53 272.00,28.56 273.25,28.70C274.50,28.83 275.54,28.77 277.00,29.50C278.46,30.24 280.50,31.70 282.00,33.12C283.50,34.55 284.92,36.83 286.00,38.05C287.08,39.27 287.46,39.54 288.50,40.47C289.54,41.40 291.10,42.27 292.25,43.63C293.40,45.00 294.46,46.78 295.40,48.66C296.34,50.55 297.10,52.85 297.90,54.94C298.70,57.04 299.58,59.55 300.20,61.23C300.82,62.90 301.12,63.53 301.60,65.00C302.08,66.47 302.43,67.51 303.10,70.03C303.77,72.54 304.77,76.73 305.60,80.08C306.43,83.43 307.30,86.78 308.10,90.14C308.90,93.49 309.98,98.25 310.40,100.19C310.82,102.13 310.45,100.52 310.60,101.80C310.75,103.08 310.78,105.70 311.30,107.87C311.82,110.04 312.82,112.51 313.70,114.84C314.58,117.16 315.63,119.68 316.60,121.80C317.57,123.92 318.53,126.13 319.50,127.57C320.47,129.01 321.23,129.84 322.40,130.46C323.57,131.07 325.33,131.25 326.50,131.25C327.67,131.25 328.72,131.07 329.40,130.46C330.08,129.84 330.15,128.83 330.60,127.57C331.05,126.31 331.68,124.30 332.10,122.89C332.52,121.49 332.93,119.74 333.10,119.11" fill="none" stroke="#b8407e" stroke-width="1.1" stroke-linejoin="round" opacity="0.5" clip-path="url(#cuB)"/>
<path d="M214.3,102.7C214.37,102.81 214.05,102.70 214.70,103.39C215.35,104.09 217.03,106.39 218.20,106.88C219.37,107.36 220.53,106.58 221.70,106.28C222.87,105.98 224.03,105.57 225.20,105.08C226.37,104.60 227.73,104.26 228.70,103.39C229.67,102.53 230.32,101.26 231.00,99.89C231.68,98.52 231.77,97.31 232.75,95.16C233.73,93.02 235.68,89.53 236.90,87.02C238.12,84.51 239.26,82.49 240.10,80.08C240.94,77.67 241.33,74.84 241.95,72.54C242.57,70.24 242.97,68.03 243.80,66.26C244.63,64.48 246.21,62.94 246.95,61.88C247.69,60.83 247.41,61.08 248.25,59.92C249.09,58.75 250.96,56.57 252.00,54.89C253.04,53.21 253.67,51.75 254.50,49.86C255.33,47.98 256.17,45.67 257.00,43.58C257.83,41.48 258.57,39.29 259.50,37.29C260.43,35.30 261.56,32.98 262.60,31.61C263.64,30.25 264.60,29.72 265.75,29.10C266.90,28.48 268.25,28.09 269.50,27.89C270.75,27.69 272.00,27.69 273.25,27.89C274.50,28.09 275.71,28.25 277.00,29.10C278.29,29.96 279.50,31.53 281.00,33.02C282.50,34.51 284.65,36.49 286.00,38.05C287.35,39.61 288.27,40.61 289.10,42.38C289.93,44.14 290.37,46.57 291.00,48.66C291.63,50.76 292.17,52.64 292.90,54.94C293.63,57.25 294.88,60.81 295.40,62.49C295.92,64.16 295.44,63.32 296.00,65.00C296.56,66.67 297.46,69.19 298.75,72.54C300.04,75.89 302.19,81.34 303.75,85.11C305.31,88.88 306.89,92.36 308.10,95.16C309.31,97.96 309.98,99.60 311.00,101.90C312.02,104.20 313.12,106.63 314.25,108.97C315.38,111.30 316.58,113.89 317.75,115.93C318.92,117.97 320.08,119.74 321.25,121.20C322.42,122.66 323.68,124.01 324.75,124.69C325.82,125.37 326.82,125.38 327.70,125.28C328.57,125.18 329.32,125.07 330.00,124.09C330.68,123.11 331.32,121.15 331.75,119.41C332.18,117.67 332.38,115.18 332.60,113.64C332.83,112.10 333.02,110.74 333.10,110.16" fill="none" stroke="#484b8c" stroke-width="1.1" stroke-linejoin="round"/>
<line x1="214.1" y1="101.5" x2="333.1" y2="101.5" stroke="#2a2060" stroke-width="1" opacity="0.3"/>
</g>
<path d="M214.1,9.9H333.1V148" fill="none" stroke="#8e8e8e" stroke-width="0.7"/>
<path d="M214.1,9.9V148H333.1" fill="none" stroke="#6a6a6a" stroke-width="1"/>
<path d="M214.1,148v-1.3M214.1,9.9v1.3M243.85,148v-1.3M243.85,9.9v1.3M273.6,148v-1.3M273.6,9.9v1.3M303.35,148v-1.3M303.35,9.9v1.3M333.1,148v-1.3M333.1,9.9v1.3M214.1,9.9h1.3M333.1,9.9h-1.3M214.1,32.92h1.3M333.1,32.92h-1.3M214.1,55.93h1.3M333.1,55.93h-1.3M214.1,78.95h1.3M333.1,78.95h-1.3M214.1,101.97h1.3M333.1,101.97h-1.3M214.1,124.98h1.3M333.1,124.98h-1.3M214.1,148h1.3M333.1,148h-1.3" stroke="#6a6a6a" stroke-width="0.8" fill="none"/>
<g class="lib" font-size="7.5" fill="#303030" stroke="#303030" stroke-width="0.18">
<text transform="translate(211.5,12.4) rotate(0.03)" text-anchor="end">2</text>
<text transform="translate(211.5,35.42) rotate(0.03)" text-anchor="end">1.5</text>
<text transform="translate(211.5,58.43) rotate(0.03)" text-anchor="end">1</text>
<text transform="translate(211.5,81.45) rotate(0.03)" text-anchor="end">0.5</text>
<text transform="translate(211.5,104.47) rotate(0.03)" text-anchor="end">0</text>
<text transform="translate(211.5,127.48) rotate(0.03)" text-anchor="end">-0.5</text>
<text transform="translate(211.5,150.5) rotate(0.03)" text-anchor="end">-1</text>
<text transform="translate(214.1,158) rotate(0.03)" text-anchor="middle">-1</text>
<text transform="translate(243.85,158) rotate(0.03)" text-anchor="middle">-0.5</text>
<text transform="translate(273.6,158) rotate(0.03)" text-anchor="middle">0</text>
<text transform="translate(303.35,158) rotate(0.03)" text-anchor="middle">0.5</text>
<text transform="translate(333.1,158) rotate(0.03)" text-anchor="middle">1</text>
</g>
<g class="lib" font-size="8.05" fill="#303030" stroke="#303030" stroke-width="0.18">
<text transform="translate(273.6,169.2) rotate(0.03)" text-anchor="middle">Normalized radius [-]</text>
<text transform="translate(194,79.6) rotate(-90.03)" text-anchor="middle">Velocity [m/s]</text>
</g>
<text class="lib" transform="translate(175.9,13.5) rotate(0.03)" font-size="18.8" font-weight="bold" fill="#111" stroke="#111" stroke-width="0.25">B</text>
</g>
<g id="panelC">
<line x1="423.1" y1="9.9" x2="423.1" y2="148" stroke="#e4e4e4" stroke-width="0.7"/>
<line x1="452.8" y1="9.9" x2="452.8" y2="148" stroke="#e4e4e4" stroke-width="0.7"/>
<line x1="482.5" y1="9.9" x2="482.5" y2="148" stroke="#e4e4e4" stroke-width="0.7"/>
<line x1="393.4" y1="32.92" x2="512.2" y2="32.92" stroke="#e4e4e4" stroke-width="0.7"/>
<line x1="393.4" y1="55.93" x2="512.2" y2="55.93" stroke="#e4e4e4" stroke-width="0.7"/>
<line x1="393.4" y1="78.95" x2="512.2" y2="78.95" stroke="#e4e4e4" stroke-width="0.7"/>
<line x1="393.4" y1="101.97" x2="512.2" y2="101.97" stroke="#e4e4e4" stroke-width="0.7"/>
<line x1="393.4" y1="124.98" x2="512.2" y2="124.98" stroke="#e4e4e4" stroke-width="0.7"/>
<g clip-path="url(#cbC)">
<path d="M393.4,101.97L393.4,98.43C393.88,97.68 395.27,95.29 396.25,93.91C397.23,92.52 398.21,92.10 399.25,90.14C400.29,88.17 401.33,84.69 402.50,82.09C403.67,79.49 405.00,76.90 406.25,74.55C407.50,72.20 409.06,69.75 410.00,68.01C410.94,66.28 411.07,65.63 411.90,64.14C412.73,62.66 413.86,60.48 415.00,59.12C416.14,57.75 417.50,56.74 418.75,55.95C420.00,55.15 421.25,54.76 422.50,54.34C423.75,53.92 424.79,53.50 426.25,53.44C427.71,53.37 429.79,53.73 431.25,53.94C432.71,54.15 433.75,54.69 435.00,54.69C436.25,54.69 437.71,53.90 438.75,53.94C439.79,53.98 440.52,54.26 441.25,54.94C441.98,55.63 442.38,57.32 443.10,58.06C443.83,58.80 444.87,58.63 445.60,59.37C446.33,60.11 446.92,61.13 447.50,62.49C448.08,63.84 448.42,65.21 449.10,67.51C449.78,69.82 450.55,73.38 451.60,76.31C452.65,79.24 454.04,82.39 455.40,85.11C456.76,87.83 458.30,90.35 459.75,92.65C461.20,94.95 462.94,97.37 464.10,98.93C465.26,100.49 465.84,100.71 466.70,102.00C467.56,103.29 468.20,105.07 469.25,106.68C470.30,108.29 471.54,110.20 473.00,111.65C474.46,113.10 476.33,114.35 478.00,115.38C479.67,116.42 481.12,117.08 483.00,117.87C484.88,118.66 487.17,119.53 489.25,120.11C491.33,120.69 493.62,121.17 495.50,121.35C497.38,121.54 498.83,121.48 500.50,121.20C502.17,120.93 504.04,120.27 505.50,119.71C506.96,119.16 508.32,118.59 509.25,117.87C510.18,117.15 510.62,116.42 511.10,115.38C511.58,114.35 511.85,112.69 512.10,111.65C512.35,110.62 512.52,109.58 512.60,109.16L512.6,101.97Z" fill="#f9aeb0"/>
<path d="M393.4,98.43C393.88,97.68 395.27,95.29 396.25,93.91C397.23,92.52 398.21,92.10 399.25,90.14C400.29,88.17 401.33,84.69 402.50,82.09C403.67,79.49 405.00,76.90 406.25,74.55C407.50,72.20 409.06,69.75 410.00,68.01C410.94,66.28 411.07,65.63 411.90,64.14C412.73,62.66 413.86,60.48 415.00,59.12C416.14,57.75 417.50,56.74 418.75,55.95C420.00,55.15 421.25,54.76 422.50,54.34C423.75,53.92 424.79,53.50 426.25,53.44C427.71,53.37 429.79,53.73 431.25,53.94C432.71,54.15 433.75,54.69 435.00,54.69C436.25,54.69 437.71,53.90 438.75,53.94C439.79,53.98 440.52,54.26 441.25,54.94C441.98,55.63 442.38,57.32 443.10,58.06C443.83,58.80 444.87,58.63 445.60,59.37C446.33,60.11 446.92,61.13 447.50,62.49C448.08,63.84 448.42,65.21 449.10,67.51C449.78,69.82 450.55,73.38 451.60,76.31C452.65,79.24 454.04,82.39 455.40,85.11C456.76,87.83 458.30,90.35 459.75,92.65C461.20,94.95 462.94,97.37 464.10,98.93C465.26,100.49 465.84,100.71 466.70,102.00C467.56,103.29 468.20,105.07 469.25,106.68C470.30,108.29 471.54,110.20 473.00,111.65C474.46,113.10 476.33,114.35 478.00,115.38C479.67,116.42 481.12,117.08 483.00,117.87C484.88,118.66 487.17,119.53 489.25,120.11C491.33,120.69 493.62,121.17 495.50,121.35C497.38,121.54 498.83,121.48 500.50,121.20C502.17,120.93 504.04,120.27 505.50,119.71C506.96,119.16 508.32,118.59 509.25,117.87C510.18,117.15 510.62,116.42 511.10,115.38C511.58,114.35 511.85,112.69 512.10,111.65C512.35,110.62 512.52,109.58 512.60,109.16" fill="none" stroke="#ee5a5e" stroke-width="1.1" stroke-linejoin="round"/>
<path d="M393.4,101.97L393.4,100.19C393.53,100.72 393.92,102.63 394.20,103.39C394.48,104.16 394.60,104.79 395.10,104.79C395.60,104.79 396.51,103.95 397.20,103.39C397.89,102.84 398.47,103.03 399.25,101.45C400.03,99.87 401.21,95.79 401.90,93.91C402.59,92.02 402.88,91.90 403.40,90.14C403.92,88.38 404.11,84.90 405.00,83.35C405.89,81.80 407.50,81.88 408.75,80.84C410.00,79.79 411.46,78.53 412.50,77.06C413.54,75.60 414.07,73.82 415.00,72.04C415.93,70.25 417.06,68.68 418.10,66.35C419.14,64.02 420.31,60.18 421.25,58.06C422.19,55.94 422.81,54.99 423.75,53.63C424.69,52.28 425.76,51.06 426.90,49.91C428.04,48.77 429.57,47.69 430.60,46.75C431.63,45.80 432.41,44.89 433.10,44.23C433.79,43.57 434.12,42.77 434.75,42.78C435.38,42.79 436.02,43.52 436.90,44.29C437.77,45.06 438.86,46.36 440.00,47.40C441.14,48.44 442.71,49.47 443.75,50.52C444.79,51.57 445.42,52.43 446.25,53.69C447.08,54.94 448.06,57.01 448.75,58.06C449.44,59.11 449.71,58.82 450.40,59.97C451.09,61.13 451.76,63.53 452.90,65.00C454.04,66.47 455.90,67.51 457.25,68.77C458.60,70.03 459.86,70.86 461.00,72.54C462.14,74.22 463.17,76.73 464.10,78.82C465.03,80.92 465.77,83.01 466.60,85.11C467.43,87.20 468.24,89.47 469.10,91.39C469.96,93.32 470.89,95.37 471.75,96.67C472.61,97.97 473.42,98.56 474.25,99.18C475.08,99.81 476.12,99.81 476.75,100.44C477.38,101.07 477.58,101.70 478.00,102.95C478.42,104.19 478.73,106.26 479.25,107.92C479.77,109.58 480.27,111.65 481.10,112.90C481.93,114.14 482.89,114.76 484.25,115.38C485.61,116.00 487.38,116.25 489.25,116.63C491.12,117.00 493.42,117.41 495.50,117.62C497.58,117.83 499.88,117.83 501.75,117.87C503.62,117.91 505.50,118.08 506.75,117.87C508.00,117.66 508.52,117.66 509.25,116.63C509.98,115.59 510.64,113.31 511.10,111.65C511.56,109.99 511.75,107.92 512.00,106.68C512.25,105.43 512.50,104.60 512.60,104.19L512.6,101.97Z" fill="#acb0e2"/>
<path d="M393.4,101.97L393.4,100.19C393.53,100.72 393.92,102.63 394.20,103.39C394.48,104.16 394.60,104.79 395.10,104.79C395.60,104.79 396.51,103.95 397.20,103.39C397.89,102.84 398.47,103.03 399.25,101.45C400.03,99.87 401.21,95.79 401.90,93.91C402.59,92.02 402.88,91.90 403.40,90.14C403.92,88.38 404.11,84.90 405.00,83.35C405.89,81.80 407.50,81.88 408.75,80.84C410.00,79.79 411.46,78.53 412.50,77.06C413.54,75.60 414.07,73.82 415.00,72.04C415.93,70.25 417.06,68.68 418.10,66.35C419.14,64.02 420.31,60.18 421.25,58.06C422.19,55.94 422.81,54.99 423.75,53.63C424.69,52.28 425.76,51.06 426.90,49.91C428.04,48.77 429.57,47.69 430.60,46.75C431.63,45.80 432.41,44.89 433.10,44.23C433.79,43.57 434.12,42.77 434.75,42.78C435.38,42.79 436.02,43.52 436.90,44.29C437.77,45.06 438.86,46.36 440.00,47.40C441.14,48.44 442.71,49.47 443.75,50.52C444.79,51.57 445.42,52.43 446.25,53.69C447.08,54.94 448.06,57.01 448.75,58.06C449.44,59.11 449.71,58.82 450.40,59.97C451.09,61.13 451.76,63.53 452.90,65.00C454.04,66.47 455.90,67.51 457.25,68.77C458.60,70.03 459.86,70.86 461.00,72.54C462.14,74.22 463.17,76.73 464.10,78.82C465.03,80.92 465.77,83.01 466.60,85.11C467.43,87.20 468.24,89.47 469.10,91.39C469.96,93.32 470.89,95.37 471.75,96.67C472.61,97.97 473.42,98.56 474.25,99.18C475.08,99.81 476.12,99.81 476.75,100.44C477.38,101.07 477.58,101.70 478.00,102.95C478.42,104.19 478.73,106.26 479.25,107.92C479.77,109.58 480.27,111.65 481.10,112.90C481.93,114.14 482.89,114.76 484.25,115.38C485.61,116.00 487.38,116.25 489.25,116.63C491.12,117.00 493.42,117.41 495.50,117.62C497.58,117.83 499.88,117.83 501.75,117.87C503.62,117.91 505.50,118.08 506.75,117.87C508.00,117.66 508.52,117.66 509.25,116.63C509.98,115.59 510.64,113.31 511.10,111.65C511.56,109.99 511.75,107.92 512.00,106.68C512.25,105.43 512.50,104.60 512.60,104.19L512.6,101.97Z" fill="#a877bd" clip-path="url(#crC)"/>
<path d="M393.4,98.43C393.88,97.68 395.27,95.29 396.25,93.91C397.23,92.52 398.21,92.10 399.25,90.14C400.29,88.17 401.33,84.69 402.50,82.09C403.67,79.49 405.00,76.90 406.25,74.55C407.50,72.20 409.06,69.75 410.00,68.01C410.94,66.28 411.07,65.63 411.90,64.14C412.73,62.66 413.86,60.48 415.00,59.12C416.14,57.75 417.50,56.74 418.75,55.95C420.00,55.15 421.25,54.76 422.50,54.34C423.75,53.92 424.79,53.50 426.25,53.44C427.71,53.37 429.79,53.73 431.25,53.94C432.71,54.15 433.75,54.69 435.00,54.69C436.25,54.69 437.71,53.90 438.75,53.94C439.79,53.98 440.52,54.26 441.25,54.94C441.98,55.63 442.38,57.32 443.10,58.06C443.83,58.80 444.87,58.63 445.60,59.37C446.33,60.11 446.92,61.13 447.50,62.49C448.08,63.84 448.42,65.21 449.10,67.51C449.78,69.82 450.55,73.38 451.60,76.31C452.65,79.24 454.04,82.39 455.40,85.11C456.76,87.83 458.30,90.35 459.75,92.65C461.20,94.95 462.94,97.37 464.10,98.93C465.26,100.49 465.84,100.71 466.70,102.00C467.56,103.29 468.20,105.07 469.25,106.68C470.30,108.29 471.54,110.20 473.00,111.65C474.46,113.10 476.33,114.35 478.00,115.38C479.67,116.42 481.12,117.08 483.00,117.87C484.88,118.66 487.17,119.53 489.25,120.11C491.33,120.69 493.62,121.17 495.50,121.35C497.38,121.54 498.83,121.48 500.50,121.20C502.17,120.93 504.04,120.27 505.50,119.71C506.96,119.16 508.32,118.59 509.25,117.87C510.18,117.15 510.62,116.42 511.10,115.38C511.58,114.35 511.85,112.69 512.10,111.65C512.35,110.62 512.52,109.58 512.60,109.16" fill="none" stroke="#b8407e" stroke-width="1.1" stroke-linejoin="round" opacity="0.5" clip-path="url(#cuC)"/>
<path d="M393.4,100.19C393.53,100.72 393.92,102.63 394.20,103.39C394.48,104.16 394.60,104.79 395.10,104.79C395.60,104.79 396.51,103.95 397.20,103.39C397.89,102.84 398.47,103.03 399.25,101.45C400.03,99.87 401.21,95.79 401.90,93.91C402.59,92.02 402.88,91.90 403.40,90.14C403.92,88.38 404.11,84.90 405.00,83.35C405.89,81.80 407.50,81.88 408.75,80.84C410.00,79.79 411.46,78.53 412.50,77.06C413.54,75.60 414.07,73.82 415.00,72.04C415.93,70.25 417.06,68.68 418.10,66.35C419.14,64.02 420.31,60.18 421.25,58.06C422.19,55.94 422.81,54.99 423.75,53.63C424.69,52.28 425.76,51.06 426.90,49.91C428.04,48.77 429.57,47.69 430.60,46.75C431.63,45.80 432.41,44.89 433.10,44.23C433.79,43.57 434.12,42.77 434.75,42.78C435.38,42.79 436.02,43.52 436.90,44.29C437.77,45.06 438.86,46.36 440.00,47.40C441.14,48.44 442.71,49.47 443.75,50.52C444.79,51.57 445.42,52.43 446.25,53.69C447.08,54.94 448.06,57.01 448.75,58.06C449.44,59.11 449.71,58.82 450.40,59.97C451.09,61.13 451.76,63.53 452.90,65.00C454.04,66.47 455.90,67.51 457.25,68.77C458.60,70.03 459.86,70.86 461.00,72.54C462.14,74.22 463.17,76.73 464.10,78.82C465.03,80.92 465.77,83.01 466.60,85.11C467.43,87.20 468.24,89.47 469.10,91.39C469.96,93.32 470.89,95.37 471.75,96.67C472.61,97.97 473.42,98.56 474.25,99.18C475.08,99.81 476.12,99.81 476.75,100.44C477.38,101.07 477.58,101.70 478.00,102.95C478.42,104.19 478.73,106.26 479.25,107.92C479.77,109.58 480.27,111.65 481.10,112.90C481.93,114.14 482.89,114.76 484.25,115.38C485.61,116.00 487.38,116.25 489.25,116.63C491.12,117.00 493.42,117.41 495.50,117.62C497.58,117.83 499.88,117.83 501.75,117.87C503.62,117.91 505.50,118.08 506.75,117.87C508.00,117.66 508.52,117.66 509.25,116.63C509.98,115.59 510.64,113.31 511.10,111.65C511.56,109.99 511.75,107.92 512.00,106.68C512.25,105.43 512.50,104.60 512.60,104.19" fill="none" stroke="#484b8c" stroke-width="1.1" stroke-linejoin="round"/>
<line x1="393.4" y1="101.5" x2="512.2" y2="101.5" stroke="#2a2060" stroke-width="1" opacity="0.3"/>
</g>
<path d="M393.4,9.9H512.2V148" fill="none" stroke="#8e8e8e" stroke-width="0.7"/>
<path d="M393.4,9.9V148H512.2" fill="none" stroke="#6a6a6a" stroke-width="1"/>
<path d="M393.4,148v-1.3M393.4,9.9v1.3M423.1,148v-1.3M423.1,9.9v1.3M452.8,148v-1.3M452.8,9.9v1.3M482.5,148v-1.3M482.5,9.9v1.3M512.2,148v-1.3M512.2,9.9v1.3M393.4,9.9h1.3M512.2,9.9h-1.3M393.4,32.92h1.3M512.2,32.92h-1.3M393.4,55.93h1.3M512.2,55.93h-1.3M393.4,78.95h1.3M512.2,78.95h-1.3M393.4,101.97h1.3M512.2,101.97h-1.3M393.4,124.98h1.3M512.2,124.98h-1.3M393.4,148h1.3M512.2,148h-1.3" stroke="#6a6a6a" stroke-width="0.8" fill="none"/>
<g class="lib" font-size="7.5" fill="#303030" stroke="#303030" stroke-width="0.18">
<text transform="translate(390.8,12.4) rotate(0.03)" text-anchor="end">2</text>
<text transform="translate(390.8,35.42) rotate(0.03)" text-anchor="end">1.5</text>
<text transform="translate(390.8,58.43) rotate(0.03)" text-anchor="end">1</text>
<text transform="translate(390.8,81.45) rotate(0.03)" text-anchor="end">0.5</text>
<text transform="translate(390.8,104.47) rotate(0.03)" text-anchor="end">0</text>
<text transform="translate(390.8,127.48) rotate(0.03)" text-anchor="end">-0.5</text>
<text transform="translate(390.8,150.5) rotate(0.03)" text-anchor="end">-1</text>
<text transform="translate(393.4,158) rotate(0.03)" text-anchor="middle">-1</text>
<text transform="translate(423.1,158) rotate(0.03)" text-anchor="middle">-0.5</text>
<text transform="translate(452.8,158) rotate(0.03)" text-anchor="middle">0</text>
<text transform="translate(482.5,158) rotate(0.03)" text-anchor="middle">0.5</text>
<text transform="translate(512.2,158) rotate(0.03)" text-anchor="middle">1</text>
</g>
<g class="lib" font-size="8.05" fill="#303030" stroke="#303030" stroke-width="0.18">
<text transform="translate(452.8,169.2) rotate(0.03)" text-anchor="middle">Normalized radius [-]</text>
<text transform="translate(373.3,79.6) rotate(-90.03)" text-anchor="middle">Velocity [m/s]</text>
</g>
<text class="lib" transform="translate(350.1,13.6) rotate(0.03)" font-size="18.8" font-weight="bold" fill="#111" stroke="#111" stroke-width="0.25">C</text>
</g>
<g id="legendC">
<rect x="457.2" y="16.0" width="50.9" height="20.4" fill="#fff" stroke="#7a7a7a" stroke-width="0.7"/>
<rect x="459.6" y="18.3" width="22.6" height="6.6" fill="#f9aeb0" stroke="#ee5a5e" stroke-width="0.7"/>
<rect x="459.6" y="27.6" width="22.6" height="6.4" fill="#acb0e2" stroke="#484b8c" stroke-width="0.7"/>
<text class="lib" transform="translate(484.4,23.8) rotate(0.03)" font-size="6.7" fill="#222" stroke="#222" stroke-width="0.22">control</text>
<text class="lib" transform="translate(484.4,33.1) rotate(0.03)" font-size="6.7" fill="#222" stroke="#222" stroke-width="0.22">THVT</text>
</g>
<g id="panelD">
<rect x="37.55" y="190.85" width="476.35" height="138.15" fill="none" stroke="#8c8c8c" stroke-width="0.8"/>
<path d="M37.55,329h1.3M513.9,329h-1.3M37.55,305.98h1.3M513.9,305.98h-1.3M37.55,282.95h1.3M513.9,282.95h-1.3M37.55,259.93h1.3M513.9,259.93h-1.3M37.55,236.9h1.3M513.9,236.9h-1.3M37.55,213.88h1.3M513.9,213.88h-1.3M37.55,190.85h1.3M513.9,190.85h-1.3M37.55,329v-1.3M37.55,190.85v1.3M90.48,329v-1.3M90.48,190.85v1.3M143.41,329v-1.3M143.41,190.85v1.3M196.33,329v-1.3M196.33,190.85v1.3M249.26,329v-1.3M249.26,190.85v1.3M302.19,329v-1.3M302.19,190.85v1.3M355.12,329v-1.3M355.12,190.85v1.3M408.04,329v-1.3M408.04,190.85v1.3M460.97,329v-1.3M460.97,190.85v1.3M513.9,329v-1.3M513.9,190.85v1.3" stroke="#9a9a9a" stroke-width="0.6" fill="none"/>
<path d="M43.1,329.4V326.4H49.16V329.4ZM49.16,329.4V317H55.21V329.4ZM55.21,329.4V298.25H61.27V329.4ZM61.27,329.4V286H67.32V329.4ZM67.32,329.4V272.5H73.38V329.4ZM73.38,329.4V263H79.44V329.4ZM79.44,329.4V244H85.49V329.4ZM85.49,329.4V239.4H91.55V329.4ZM91.55,329.4V239.4H97.6V329.4ZM97.6,329.4V232.5H103.66V329.4ZM103.66,329.4V234.4H109.72V329.4ZM109.72,329.4V239.4H115.77V329.4ZM115.77,329.4V229H121.83V329.4ZM121.83,329.4V228.5H127.88V329.4ZM127.88,329.4V232.5H133.94V329.4ZM133.94,329.4V230.6H140V329.4ZM140,329.4V239H146.05V329.4ZM146.05,329.4V241.9H152.11V329.4ZM152.11,329.4V244.4H158.16V329.4ZM158.16,329.4V249H164.22V329.4ZM164.22,329.4V254H170.28V329.4ZM170.28,329.4V263.75H176.33V329.4ZM176.33,329.4V271.9H182.39V329.4ZM182.39,329.4V279.5H188.44V329.4ZM188.44,329.4V285.1H194.5V329.4ZM194.5,329.4V291.4H200.56V329.4ZM200.56,329.4V297.6H206.61V329.4ZM206.61,329.4V300.75H212.67V329.4ZM212.67,329.4V305H218.72V329.4ZM218.72,329.4V308.8H224.78V329.4ZM224.78,329.4V310H230.84V329.4ZM230.84,329.4V315.2H236.89V329.4ZM236.89,329.4V315.8H242.95V329.4ZM242.95,329.4V319.5H249V329.4ZM249,329.4V321H255.06V329.4ZM255.06,329.4V322.1H261.12V329.4ZM261.12,329.4V322.7H267.17V329.4ZM267.17,329.4V323.3H273.23V329.4ZM273.23,329.4V325.3H279.28V329.4ZM279.28,329.4V325.8H285.34V329.4ZM285.34,329.4V326.5H291.4V329.4ZM291.4,329.4V327H297.45V329.4ZM297.45,329.4V327.4H303.51V329.4ZM303.51,329.4V327.8H309.56V329.4ZM309.56,329.4V328H315.62V329.4ZM315.62,329.4V328.2H321.68V329.4ZM321.68,329.4V328.3H327.73V329.4ZM327.73,329.4V328.4H333.79V329.4ZM333.79,329.4V328.5H339.84V329.4ZM339.84,329.4V328.5H345.9V329.4ZM345.9,329.4V328.6H351.96V329.4ZM351.96,329.4V328.6H358.01V329.4ZM358.01,329.4V328.7H364.07V329.4Z" fill="#f26c73"/>
<path d="M43.1,329.4V328.8H49.16V329.4ZM49.16,329.4V323.25H55.21V329.4ZM55.21,329.4V309.25H61.27V329.4ZM61.27,329.4V292.4H67.32V329.4ZM67.32,329.4V278.3H73.38V329.4ZM73.38,329.4V264.8H79.44V329.4ZM79.44,329.4V251.4H85.49V329.4ZM85.49,329.4V240H91.55V329.4ZM91.55,329.4V228.1H97.6V329.4ZM97.6,329.4V220H103.66V329.4ZM103.66,329.4V213.1H109.72V329.4ZM109.72,329.4V213.5H115.77V329.4ZM115.77,329.4V220H121.83V329.4ZM121.83,329.4V228.1H127.88V329.4ZM127.88,329.4V232.5H133.94V329.4ZM133.94,329.4V233.75H140V329.4ZM140,329.4V238H146.05V329.4ZM146.05,329.4V238.75H152.11V329.4ZM152.11,329.4V241.9H158.16V329.4ZM158.16,329.4V246.25H164.22V329.4ZM164.22,329.4V251.9H170.28V329.4ZM170.28,329.4V258.1H176.33V329.4ZM176.33,329.4V266.5H182.39V329.4ZM182.39,329.4V277H188.44V329.4ZM188.44,329.4V285.1H194.5V329.4ZM194.5,329.4V298.25H200.56V329.4ZM200.56,329.4V302H206.61V329.4ZM206.61,329.4V308.25H212.67V329.4ZM212.67,329.4V312H218.72V329.4ZM218.72,329.4V315.4H224.78V329.4ZM224.78,329.4V319.8H230.84V329.4ZM230.84,329.4V322.1H236.89V329.4ZM236.89,329.4V323.8H242.95V329.4ZM242.95,329.4V325.6H249V329.4ZM249,329.4V325.2H255.06V329.4ZM255.06,329.4V326.7H261.12V329.4ZM261.12,329.4V327H267.17V329.4ZM267.17,329.4V327.3H273.23V329.4ZM273.23,329.4V327.6H279.28V329.4ZM279.28,329.4V327.8H285.34V329.4ZM285.34,329.4V328H291.4V329.4ZM291.4,329.4V328.2H297.45V329.4ZM297.45,329.4V328.3H303.51V329.4ZM303.51,329.4V328.4H309.56V329.4ZM309.56,329.4V328.3H315.62V329.4ZM315.62,329.4V328.5H321.68V329.4Z" fill="#6c76c6"/>
<path d="M43.1,329.4V328.8H49.16V329.4ZM49.16,329.4V323.25H55.21V329.4ZM55.21,329.4V309.25H61.27V329.4ZM61.27,329.4V292.4H67.32V329.4ZM67.32,329.4V278.3H73.38V329.4ZM73.38,329.4V264.8H79.44V329.4ZM79.44,329.4V251.4H85.49V329.4ZM85.49,329.4V240H91.55V329.4ZM91.55,329.4V239.4H97.6V329.4ZM97.6,329.4V232.5H103.66V329.4ZM103.66,329.4V234.4H109.72V329.4ZM109.72,329.4V239.4H115.77V329.4ZM115.77,329.4V229H121.83V329.4ZM121.83,329.4V228.5H127.88V329.4ZM127.88,329.4V232.5H133.94V329.4ZM133.94,329.4V233.75H140V329.4ZM140,329.4V239H146.05V329.4ZM146.05,329.4V241.9H152.11V329.4ZM152.11,329.4V244.4H158.16V329.4ZM158.16,329.4V249H164.22V329.4ZM164.22,329.4V254H170.28V329.4ZM170.28,329.4V263.75H176.33V329.4ZM176.33,329.4V271.9H182.39V329.4ZM182.39,329.4V279.5H188.44V329.4ZM188.44,329.4V285.1H194.5V329.4ZM194.5,329.4V298.25H200.56V329.4ZM200.56,329.4V302H206.61V329.4ZM206.61,329.4V308.25H212.67V329.4ZM212.67,329.4V312H218.72V329.4ZM218.72,329.4V315.4H224.78V329.4ZM224.78,329.4V319.8H230.84V329.4ZM230.84,329.4V322.1H236.89V329.4ZM236.89,329.4V323.8H242.95V329.4ZM242.95,329.4V325.6H249V329.4ZM249,329.4V325.2H255.06V329.4ZM255.06,329.4V326.7H261.12V329.4ZM261.12,329.4V327H267.17V329.4ZM267.17,329.4V327.3H273.23V329.4ZM273.23,329.4V327.6H279.28V329.4ZM279.28,329.4V327.8H285.34V329.4ZM285.34,329.4V328H291.4V329.4ZM291.4,329.4V328.2H297.45V329.4ZM297.45,329.4V328.3H303.51V329.4ZM303.51,329.4V328.4H309.56V329.4ZM309.56,329.4V328.3H315.62V329.4ZM315.62,329.4V328.5H321.68V329.4Z" fill="#7247a2"/>
<path d="M55.21,329V323.25M61.27,329V309.25M67.32,329V292.4M73.38,329V278.3M79.44,329V264.8M85.49,329V251.4M91.55,329V240M97.6,329V239.4M103.66,329V234.4M109.72,329V239.4M115.77,329V239.4M121.83,329V229M127.88,329V232.5M133.94,329V233.75M140,329V239M146.05,329V241.9M152.11,329V244.4M158.16,329V249M164.22,329V254M170.28,329V263.75M176.33,329V271.9M182.39,329V279.5M188.44,329V285.1M194.5,329V298.25M200.56,329V302M206.61,329V308.25M212.67,329V312M218.72,329V315.4M224.78,329V319.8M230.84,329V322.1M236.89,329V323.8M242.95,329V325.6M249,329V325.6M255.06,329V326.7M261.12,329V327M267.17,329V327.3" stroke="#5a3590" stroke-width="0.6" fill="none" opacity="0.75"/>
<path d="M49.16,328.8V326.4M55.21,323.25V317M61.27,309.25V298.25M67.32,292.4V286M73.38,278.3V272.5M79.44,264.8V263M85.49,251.4V244M97.6,239.4V228.1M103.66,234.4V220M109.72,239.4V213.5M115.77,239.4V220M121.83,229V228.1M133.94,233.75V232.5M140,239V238M146.05,241.9V238.75M152.11,244.4V241.9M158.16,249V246.25M164.22,254V251.9M170.28,263.75V258.1M176.33,271.9V266.5M182.39,279.5V277M194.5,298.25V291.4M200.56,302V297.6M206.61,308.25V300.75M212.67,312V305M218.72,315.4V308.8M224.78,319.8V310M230.84,322.1V315.2M236.89,323.8V315.8M242.95,325.6V319.5M249,325.6V321M255.06,326.7V322.1M261.12,327V322.7M267.17,327.3V323.3M273.23,327.6V325.3M279.28,327.8V325.8M285.34,328V326.5M291.4,328.2V327M297.45,328.3V327.4" stroke="#4a3a9a" stroke-width="0.5" fill="none" opacity="0.45"/>
<line x1="133.9" y1="190.85" x2="133.9" y2="233.2" stroke="#3c4a90" stroke-width="1.15"/>
<line x1="133.9" y1="233.2" x2="133.9" y2="329" stroke="#5550a8" stroke-width="1.3" opacity="0.9"/>
<line x1="137.6" y1="190.85" x2="137.6" y2="230.8" stroke="#c6484c" stroke-width="1.35"/>
<line x1="137.6" y1="230.8" x2="137.6" y2="329" stroke="#d8343a" stroke-width="1.4"/>
<g class="dv" font-size="8.3" fill="#222" stroke="#222" stroke-width="0.3">
<text transform="translate(36.35,331.55) rotate(0.03)" text-anchor="end">0.0</text>
<text transform="translate(36.35,308.53) rotate(0.03)" text-anchor="end">0.5</text>
<text transform="translate(36.35,285.5) rotate(0.03)" text-anchor="end">1.0</text>
<text transform="translate(36.35,262.48) rotate(0.03)" text-anchor="end">1.5</text>
<text transform="translate(36.35,239.45) rotate(0.03)" text-anchor="end">2.0</text>
<text transform="translate(36.35,216.43) rotate(0.03)" text-anchor="end">2.5</text>
<text transform="translate(36.35,193.4) rotate(0.03)" text-anchor="end">3.0</text>
<text transform="translate(37.25,341.1) rotate(0.03)" text-anchor="middle">0.0</text>
<text transform="translate(90.18,341.1) rotate(0.03)" text-anchor="middle">0.2</text>
<text transform="translate(143.11,341.1) rotate(0.03)" text-anchor="middle">0.4</text>
<text transform="translate(196.03,341.1) rotate(0.03)" text-anchor="middle">0.6</text>
<text transform="translate(248.96,341.1) rotate(0.03)" text-anchor="middle">0.8</text>
<text transform="translate(301.89,341.1) rotate(0.03)" text-anchor="middle">1.0</text>
<text transform="translate(354.82,341.1) rotate(0.03)" text-anchor="middle">1.2</text>
<text transform="translate(407.74,341.1) rotate(0.03)" text-anchor="middle">1.4</text>
<text transform="translate(460.67,341.1) rotate(0.03)" text-anchor="middle">1.6</text>
<text transform="translate(513.6,341.1) rotate(0.03)" text-anchor="middle">1.8</text>
</g>
<text class="dv" transform="translate(19.6,260.3) rotate(-90.03)" text-anchor="middle" font-size="11.9" textLength="130.5" lengthAdjust="spacingAndGlyphs" fill="#1a1a1a" stroke="#1a1a1a" stroke-width="0.2">Normalized distribution</text>
<text transform="translate(251.3,356.4) rotate(0.03)" font-size="10.7" fill="#222"><tspan class="dv" fill="#777">|</tspan><tspan class="ser" font-weight="bold" font-size="11.5">u</tspan><tspan class="ser" font-style="italic" font-weight="bold" font-size="8.6" dx="0.3" dy="2.4">f</tspan><tspan class="dv" dx="0.4" dy="-2.4" fill="#777">|</tspan><tspan class="dv"> [m/s]</tspan></text>
<rect x="286.6" y="196.3" width="222.5" height="66.4" fill="#fff" stroke="#b4b4b4" stroke-width="0.8"/>
<rect x="290.6" y="201.5" width="22.4" height="7.2" fill="#f26c73"/>
<line x1="294.6" y1="221.1" x2="308.8" y2="221.1" stroke="#d8343a" stroke-width="1.3"/>
<rect x="290.6" y="233.4" width="22.4" height="7.5" fill="#6c76c6"/>
<line x1="294.6" y1="253" x2="308.8" y2="253" stroke="#3c4a90" stroke-width="1.3"/>
<g class="dv" font-size="10.73" fill="#1a1a1a" stroke="#1a1a1a" stroke-width="0.15">
<text transform="translate(322,209.0) rotate(0.03)">Control</text>
<text transform="translate(322,224.9) rotate(0.03)">Control: Mean velocity magnitude</text>
<text transform="translate(322,240.8) rotate(0.03)">THVT</text>
<text transform="translate(322,256.7) rotate(0.03)">THVT: Mean velocity magnitude</text>
</g>
<text class="lib" transform="translate(-0.1,183.9) rotate(0.03)" font-size="18.8" font-weight="bold" fill="#111" stroke="#111" stroke-width="0.25">D</text>
</g>
</g>
</svg></body></html>
